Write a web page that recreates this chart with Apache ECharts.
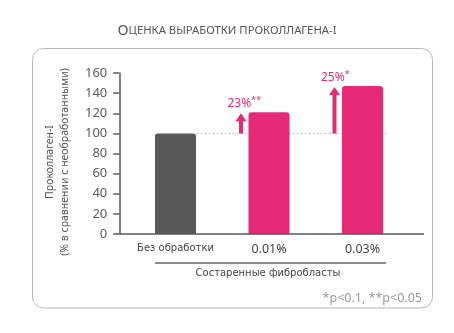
<!DOCTYPE html>
<html><head><meta charset="utf-8">
<script src="https://cdn.jsdelivr.net/npm/echarts@6/dist/echarts.min.js"></script>
<style>html,body{margin:0;padding:0;background:#fff}#c{width:454px;height:333px}</style>
</head><body><div id="c"></div>
<script>
const categories = ['Без обработки', '0.01%', '0.03%'];
const values = [100, 121, 147];
const increaseLabels = ['', '23%', '25%'];
const significance = ['', '**', '*'];
const baselineValue = 100;

const PINK = '#E62A78', GRAY = '#575757', TXT = '#555';
const FONT = '"Noto Sans", "Open Sans", sans-serif';

const chart = echarts.init(document.getElementById('c'), null, {renderer: 'canvas'});
const option = {
  animation: false,
  grid: {left: 128.75, right: 44.75, top: 73, bottom: 99},
  xAxis: {
    type: 'category', data: categories,
    axisLine: {show: false}, axisTick: {show: false},
    axisLabel: {
      interval: 0, margin: 9,
      formatter: (v, i) => i === 0 ? '{a|' + v + '}' : '{b|' + v + '}',
      rich: {
        a: {fontFamily: '"DejaVu Sans", sans-serif', fontSize: 10, color: '#444'},
        b: {fontFamily: FONT, fontSize: 12.5, color: '#444'}
      }
    }
  },
  yAxis: {
    type: 'value', min: 0, max: 160, interval: 20, offset: 9.5,
    axisLine: {show: true, lineStyle: {color: GRAY, width: 1.5}},
    axisTick: {show: true, length: 6, lineStyle: {color: GRAY, width: 1.5}},
    splitLine: {show: false},
    axisLabel: {margin: 12, fontFamily: FONT, fontSize: 13, color: '#5a5a5a'}
  },
  series: [
    {
      type: 'bar', barWidth: 41,
      data: values.map((v, i) => ({value: v, itemStyle: {color: i === 0 ? GRAY : PINK, borderRadius: [3, 3, 0, 0]}}))
    },
    {
      type: 'custom',
      data: values.map((v, i) => [i, v]),
      z: 5,
      renderItem: function (params, api) {
        const i = params.dataIndex;
        if (!increaseLabels[i]) return null;
        const top = api.coord([api.value(0), api.value(1)]);
        const base = api.coord([api.value(0), baselineValue]);
        const x = top[0] - 28, t = top[1] + 1;
        return {
          type: 'group', children: [
            {type: 'polygon', shape: {points: [[x - 2, base[1]], [x - 2, t + 8], [x - 5.5, t + 8], [x, t], [x + 5.5, t + 8], [x + 2, t + 8], [x + 2, base[1]]]},
              style: {fill: PINK}},
            {type: 'text', x: x - 13.5, y: t - 10,
              style: {text: '{a|' + increaseLabels[i] + '}{s|' + significance[i] + '}', verticalAlign: 'middle',
                rich: {a: {fontFamily: FONT, fontSize: 12, fill: PINK, color: PINK},
                       s: {fontFamily: FONT, fontSize: 9, fill: PINK, color: PINK, verticalAlign: 'top', padding: [0, 0, 5, 0]}}}}
          ]
        };
      }
    }
  ],
  graphic: [
    {type: 'rect', shape: {x: 32.5, y: 48.5, width: 400, height: 259.5, r: 11}, style: {fill: 'none', stroke: '#b8b8b8', lineWidth: 1}, silent: true},
    {type: 'text', left: 'center', top: 23,
      style: {text: '{b|О}{s|ЦЕНКА ВЫРАБОТКИ ПРОКОЛЛАГЕНА-I}', rich: {
        b: {fontFamily: FONT, fontSize: 14.5, fill: TXT, color: TXT},
        s: {fontFamily: FONT, fontSize: 11.3, fill: TXT, color: TXT}}}},
    {type: 'text', x: 58, y: 162, rotation: Math.PI / 2,
      style: {text: 'Проколлаген-I\n(% в сравнении с необработанными)', align: 'center', verticalAlign: 'middle',
        fontFamily: FONT, fontSize: 10.5, lineHeight: 15, fill: TXT}},
    {type: 'line', shape: {x1: 155, y1: 263, x2: 386, y2: 263}, style: {stroke: '#666', lineWidth: 1.5}},
    {type: 'text', x: 268, y: 273, style: {text: 'Состаренные фибробласты', align: 'center', verticalAlign: 'middle',
      fontFamily: '"DejaVu Sans", sans-serif', fontSize: 10, fill: '#444'}},
    {type: 'text', x: 422, y: 298, style: {text: '*p<0.1, **p<0.05', align: 'right', verticalAlign: 'middle',
      fontFamily: FONT, fontSize: 12.5, fill: '#999'}}
  ]
};
chart.setOption(option);

// axis baseline and dotted reference line, positioned through the chart's scales
const y0 = chart.convertToPixel({yAxisIndex: 0}, 0);
const yRef = chart.convertToPixel({yAxisIndex: 0}, baselineValue);
const xFirst = chart.convertToPixel({xAxisIndex: 0}, categories[0]);
const xLast = chart.convertToPixel({xAxisIndex: 0}, categories[categories.length - 1]);
option.graphic.push(
  {type: 'line', shape: {x1: 119.5, y1: y0, x2: 424, y2: y0}, style: {stroke: GRAY, lineWidth: 1.5}, z: 10},
  {type: 'line', shape: {x1: xFirst + 21, y1: yRef, x2: xLast + 24, y2: yRef}, style: {stroke: '#bdbdbd', lineWidth: 1, lineDash: [2, 2]}, z: -1}
);
chart.setOption({graphic: option.graphic});
</script></body></html>
